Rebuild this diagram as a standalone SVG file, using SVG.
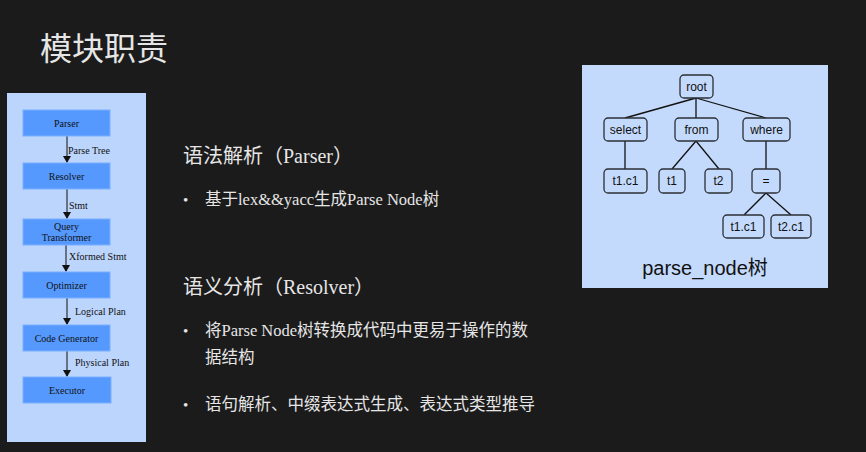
<svg xmlns="http://www.w3.org/2000/svg" width="866" height="452" viewBox="0 0 866 452">
<defs>
<style>
.bx{fill:#5599ff;stroke:#7ab0ff;stroke-width:1}
.bt{font-family:"Liberation Serif",serif;font-size:10px;fill:#111;text-anchor:middle}
.el{font-family:"Liberation Serif",serif;font-size:10px;fill:#111}
.tn{fill:#c4dafc;stroke:#2b2f36;stroke-width:1.3}
.tt{font-family:"Liberation Sans",sans-serif;font-size:12px;fill:#111;text-anchor:middle}
.wt{font-family:"Liberation Serif","Noto Sans CJK SC",serif;fill:#e6e6e6}
</style>
<marker id="ah" markerWidth="8" markerHeight="8" refX="6" refY="4" orient="auto" markerUnits="userSpaceOnUse"><path d="M0,0 L7,4 L0,8 z" fill="#111"/></marker>
</defs>
<rect width="866" height="452" fill="#1b1b1b"/>
<text class="wt" x="40" y="60" font-size="32" font-family="Noto Sans CJK SC,sans-serif">模块职责</text>
<g id="pipeline">
<rect x="7" y="93" width="139" height="349" fill="#bcd5fc"/>
<g id="connectors">
<line x1="67" y1="136" x2="67" y2="162" stroke="#111" marker-end="url(#ah)"/>
<line x1="67" y1="189" x2="67" y2="218" stroke="#111" marker-end="url(#ah)"/>
<line x1="66" y1="245" x2="66" y2="271" stroke="#111" marker-end="url(#ah)"/>
<line x1="67" y1="298" x2="67" y2="324" stroke="#111" marker-end="url(#ah)"/>
<line x1="67" y1="351" x2="67" y2="376" stroke="#111" marker-end="url(#ah)"/>
<text class="el" x="68" y="154">Parse Tree</text>
<text class="el" x="69" y="209">Stmt</text>
<text class="el" x="69" y="260">Xformed Stmt</text>
<text class="el" x="75" y="315">Logical Plan</text>
<text class="el" x="75" y="366">Physical Plan</text>
</g>
<g id="n-parser"><rect class="bx" x="23" y="110" width="87" height="26"/><text class="bt" x="66.5" y="127">Parser</text></g>
<g id="n-resolver"><rect class="bx" x="23" y="163" width="87" height="26"/><text class="bt" x="66.5" y="180">Resolver</text></g>
<g id="n-query"><rect class="bx" x="23" y="219" width="87" height="26"/><text class="bt" x="66.5" y="230">Query</text><text class="bt" x="66.5" y="241">Transformer</text></g>
<g id="n-optimizer"><rect class="bx" x="23" y="272" width="87" height="26"/><text class="bt" x="66.5" y="289">Optimizer</text></g>
<g id="n-codegen"><rect class="bx" x="23" y="325" width="87" height="26"/><text class="bt" x="66.5" y="342">Code Generator</text></g>
<g id="n-executor"><rect class="bx" x="23" y="377" width="88" height="26"/><text class="bt" x="67" y="394">Executor</text></g>
</g>
<g id="text">
<text class="wt" x="183" y="163" font-size="20">语法解析（Parser）</text>
<text class="wt" x="183" y="205" font-size="15">•</text>
<text class="wt" x="205" y="205" font-size="16.5">基于lex&amp;&amp;yacc生成Parse Node树</text>
<text class="wt" x="183" y="294" font-size="20">语义分析（Resolver）</text>
<text class="wt" x="183" y="336" font-size="15">•</text>
<text class="wt" x="205" y="336" font-size="16.5">将Parse Node树转换成代码中更易于操作的数</text>
<text class="wt" x="205" y="363" font-size="16.5">据结构</text>
<text class="wt" x="183" y="410" font-size="15">•</text>
<text class="wt" x="205" y="410" font-size="16.5">语句解析、中缀表达式生成、表达式类型推导</text>
</g>
<g id="tree">
<rect x="582" y="65" width="246" height="223" fill="#c4dafc"/>
<g id="tree-edges" stroke="#111" stroke-width="1.3">
<line x1="696" y1="98" x2="625" y2="118"/>
<line x1="696" y1="98" x2="696" y2="118"/>
<line x1="696" y1="98" x2="766" y2="118"/>
<line x1="625" y1="141" x2="625" y2="169"/>
<line x1="696" y1="141" x2="672" y2="169"/>
<line x1="696" y1="141" x2="719" y2="169"/>
<line x1="766" y1="141" x2="766" y2="169"/>
<line x1="766" y1="193" x2="744" y2="215"/>
<line x1="766" y1="193" x2="791" y2="215"/>
</g>
<g id="t-root"><rect class="tn" x="680" y="75" width="33" height="23" rx="4"/><text class="tt" x="696.5" y="91">root</text></g>
<g id="t-select"><rect class="tn" x="604" y="118" width="43" height="23" rx="4"/><text class="tt" x="625.5" y="134">select</text></g>
<g id="t-from"><rect class="tn" x="675" y="118" width="43" height="23" rx="4"/><text class="tt" x="696.5" y="134">from</text></g>
<g id="t-where"><rect class="tn" x="743" y="118" width="47" height="23" rx="4"/><text class="tt" x="766.5" y="134">where</text></g>
<g id="t-t1c1"><rect class="tn" x="604" y="169" width="43" height="24" rx="4"/><text class="tt" x="625.5" y="185">t1.c1</text></g>
<g id="t-t1"><rect class="tn" x="659" y="169" width="26" height="24" rx="4"/><text class="tt" x="672" y="185">t1</text></g>
<g id="t-t2"><rect class="tn" x="705" y="169" width="27" height="24" rx="4"/><text class="tt" x="718.5" y="185">t2</text></g>
<g id="t-eq"><rect class="tn" x="752" y="169" width="28" height="24" rx="4"/><text class="tt" x="766" y="185">=</text></g>
<g id="t-t1c1b"><rect class="tn" x="723" y="215" width="41" height="23" rx="4"/><text class="tt" x="743.5" y="231">t1.c1</text></g>
<g id="t-t2c1"><rect class="tn" x="771" y="215" width="40" height="23" rx="4"/><text class="tt" x="791" y="231">t2.c1</text></g>
<text x="705" y="275" font-family="Liberation Sans,Noto Sans CJK SC,sans-serif" font-size="20" fill="#111" text-anchor="middle">parse_node树</text>
</g>
</svg>
